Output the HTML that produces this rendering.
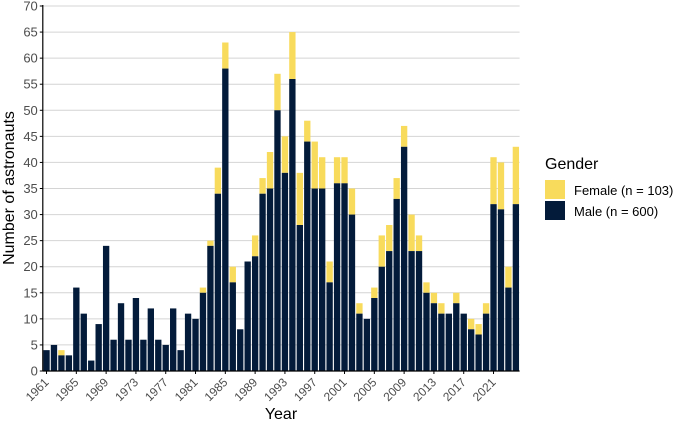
<!DOCTYPE html>
<html><head><meta charset="utf-8"><style>
body{margin:0;background:#fff;}
svg{display:block;font-family:"Liberation Sans",Arial,sans-serif;}
</style></head><body>
<svg id="chart" width="685" height="423" viewBox="0 0 685 423">
<g id="grid"></g>
<g id="bars"></g>
<g id="axes"></g>
<text x="14" y="188" transform="rotate(-90 14 188)" text-anchor="middle" font-size="16" fill="#000">Number of astronauts</text>
<text x="281" y="419" text-anchor="middle" font-size="16" fill="#000">Year</text>
<g>
<text x="545" y="169" font-size="16" fill="#000">Gender</text>
<rect x="545" y="180" width="20" height="19" fill="#f8db5c"/>
<rect x="545" y="201" width="20" height="19" fill="#031b3a"/>
<text x="574" y="195" font-size="13" fill="#000">Female (n = 103)</text>
<text x="574" y="216" font-size="13" fill="#000">Male (n = 600)</text>
</g>
</svg>
<script>
const years = [];
for (let y = 1961; y <= 2024; y++) years.push(y);
const totals = [4,5,4,3,16,11,2,9,24,6,13,6,14,6,12,6,5,12,4,11,10,16,25,39,63,20,8,21,26,37,42,57,45,65,38,48,44,41,21,41,41,35,13,10,16,26,28,37,47,30,26,17,15,13,11,15,11,10,9,13,41,40,20,43];
const males  = [4,5,3,3,16,11,2,9,24,6,13,6,14,6,12,6,5,12,4,11,10,15,24,34,58,17,8,21,22,34,35,50,38,56,28,44,35,35,17,36,36,30,11,10,14,20,23,33,43,23,23,15,13,11,11,13,11,8,7,11,32,31,16,32];
const yTicks = [0,5,10,15,20,25,30,35,40,45,50,55,60,65,70];
const xTickLabels = [1961,1965,1969,1973,1977,1981,1985,1989,1993,1997,2001,2005,2009,2013,2017,2021];

const NS = "http://www.w3.org/2000/svg";
const x0 = 42.8, x1 = 519.6, yBase = 371, yTop = 6, yMax = 70;
const band = (x1 - x0) / years.length;
function xCenter(yr){ return x0 + (years.indexOf(yr) + 0.5) * band; }
function yScale(v){ return yBase - v * (yBase - yTop) / yMax; }
function mk(tag, attrs, parent){ const e = document.createElementNS(NS, tag); for (const k in attrs) e.setAttribute(k, attrs[k]); parent.appendChild(e); return e; }

const grid = document.getElementById('grid');
const axes = document.getElementById('axes');
const bars = document.getElementById('bars');

yTicks.forEach(t => {
  const y = yScale(t);
  const l = mk('line', {x1: x0, x2: x1, y1: y, y2: y, stroke: '#d4d4d4', 'stroke-width': 1}, grid);
  
  
  const tk = mk('line', {x1: x0 - 3, x2: x0, y1: y, y2: y, stroke: '#000', 'stroke-width': 1}, axes);
  
  
  const tx = mk('text', {x: x0 - 5, y: y + 4.5, 'text-anchor': 'end', 'font-size': 13, fill: '#4d4d4d'}, axes);
  tx.textContent = t;
  
  
});

const bw = band * 0.85;
years.forEach((yr, i) => {
  const cx = xCenter(yr);
  const f = mk('rect', {x: cx - bw/2, y: yScale(totals[i]), width: bw, height: yScale(males[i]) - yScale(totals[i]), fill: '#f8db5c'}, bars);
  
  
  const m = mk('rect', {x: cx - bw/2, y: yScale(males[i]), width: bw, height: yBase - yScale(males[i]), fill: '#031b3a'}, bars);
  
  
});

const ya = mk('line', {x1: x0, x2: x0, y1: yTop - 1, y2: yBase + 0.5, stroke: '#000', 'stroke-width': 1.2}, axes);


const xa = mk('line', {x1: x0, x2: x1, y1: yBase, y2: yBase, stroke: '#000', 'stroke-width': 1.2}, axes);



xTickLabels.forEach(yr => {
  const cx = xCenter(yr);
  const tk = mk('line', {x1: cx, x2: cx, y1: yBase, y2: yBase + 3, stroke: '#000', 'stroke-width': 1}, axes);
  
  
  const tx = mk('text', {x: cx + 3, y: yBase + 12, 'text-anchor': 'end', 'font-size': 12, fill: '#4d4d4d', transform: 'rotate(-45 ' + (cx + 3) + ' ' + (yBase + 12) + ')'}, axes);
  tx.textContent = yr;
  
  
});
</script>
</body></html>
